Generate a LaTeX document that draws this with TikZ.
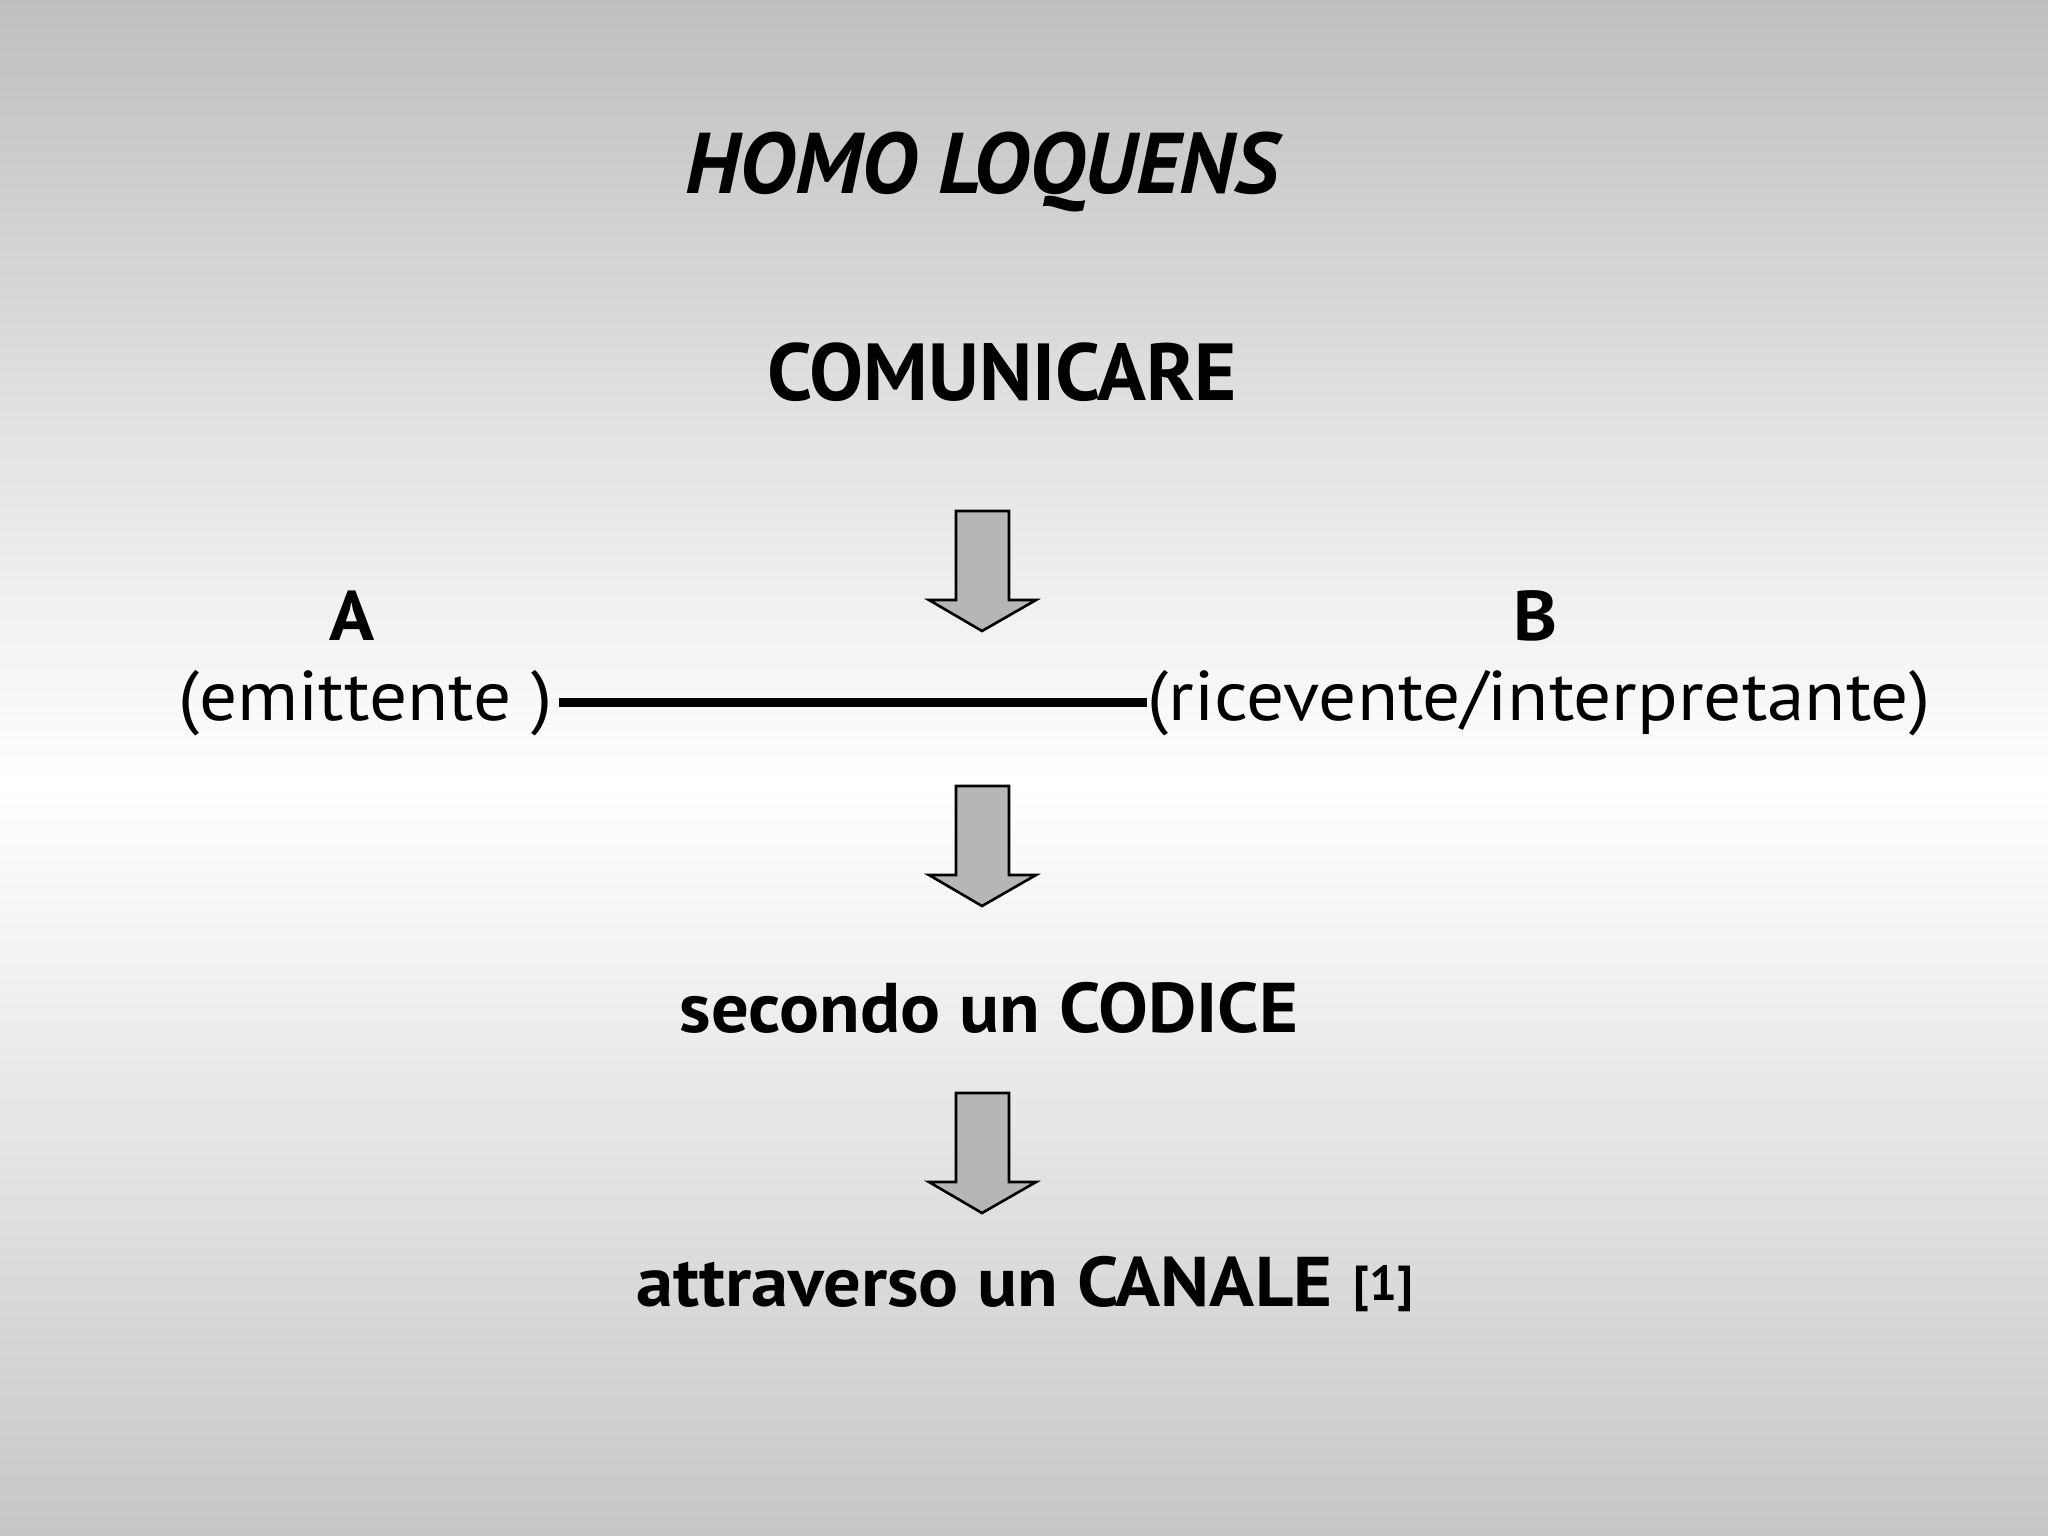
\documentclass[tikz,border=0pt]{standalone}
\usepackage{fontspec}
\setmainfont{PT Sans}
\begin{document}
\begin{tikzpicture}[x=0.01cm,y=-0.01cm,
  lbl/.style={inner sep=0pt, text=black},
  big/.style={lbl, font=\fontsize{20}{24}\selectfont\bfseries\addfontfeature{FakeStretch=1.06}},
  reg/.style={lbl, font=\fontsize{20}{24}\selectfont\addfontfeature{FakeStretch=1.07}},
  blockarrow/.style={draw=black, line width=0.75pt, fill=gray!50!white!95!black, line join=miter},
  link/.style={draw=black, line width=2.7pt}]
\useasboundingbox (0,0) rectangle (2048,1536);
\shade[top color=black!25, bottom color=white] (0,0) rectangle (2048,785);
\shade[top color=white, bottom color=black!22] (0,785) rectangle (2048,1536);

\node[lbl, font=\fontsize{24.5}{30}\selectfont\bfseries\itshape, anchor=base] (title) at (982,193) {HOMO LOQUENS};
\node[lbl, font=\fontsize{23}{28}\selectfont\bfseries, anchor=base] (com) at (1002,400) {COMUNICARE};

\node[big, anchor=base] (A) at (352,640) {A};
\node[big, anchor=base] (B) at (1536,640) {B};
\node[reg, anchor=base west] (emit) at (178,720) {(emittente )};
\node[reg, anchor=base west] (ric) at (1147,720) {(ricevente/interpretante)};
\draw[link] (emit.east) ++(6,0) -- (ric.west);

\node[big, anchor=base] (cod) at (989,1032) {secondo un CODICE};
\node[big, anchor=base west] (can) at (636,1306) {attraverso un CANALE};
\node[lbl, font=\fontsize{14}{16}\selectfont\bfseries, anchor=base west] (ref) at (1353,1300) {[1]};

\foreach \dy in {0,275,582}{
  \draw[blockarrow] (956,511+\dy) -- (1009,511+\dy) -- (1009,600+\dy) -- (1036,600+\dy)
     -- (982,631+\dy) -- (929,600+\dy) -- (956,600+\dy) -- cycle;
}
\end{tikzpicture}
\end{document}
